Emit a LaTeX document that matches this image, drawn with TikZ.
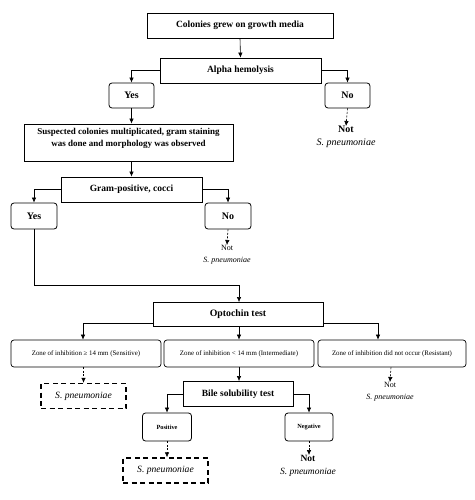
\documentclass[tikz,border=0pt]{standalone}
\usepackage{fontspec}
\setmainfont{Liberation Serif}
\usetikzlibrary{arrows.meta}
\begin{document}
\begin{tikzpicture}[x=1pt,y=-1pt,
  box/.style={draw, line width=0.8pt, inner sep=0pt, align=center, font=\fontsize{9.5}{11}\selectfont\bfseries},
  rbox/.style={box, rounded corners=3pt},
  zbox/.style={draw, line width=0.7pt, rounded corners=3pt, inner sep=0pt, align=center, minimum width=150pt, minimum height=27pt, font=\fontsize{6.9}{8}\selectfont},
  pbox/.style={rbox, minimum width=49pt, minimum height=28pt, font=\fontsize{6.3}{8}\selectfont\bfseries},
  dbox/.style={draw, line width=1.3pt, dash pattern=on 5pt off 3.5pt, inner sep=0pt, minimum width=85pt, minimum height=25pt, font=\fontsize{9.6}{11}\selectfont\itshape},
  nottxt/.style={align=center, inner sep=0pt},
  arr/.style={-{Latex[length=5pt,width=4.5pt]}, line width=0.6pt},
  darr/.style={arr, dash pattern=on 2pt off 1.5pt},
  ln/.style={line width=0.6pt}]
\useasboundingbox (0,0) rectangle (474,500);
% nodes
\node[box, minimum width=186pt, minimum height=25pt] (col) at (240,25.5) {Colonies grew on growth media};
\node[box, minimum width=161pt, minimum height=25pt] (alp) at (240.5,70.5) {Alpha hemolysis};
\node[rbox, minimum width=45pt, minimum height=25pt, font=\fontsize{10}{12}\selectfont\bfseries] (yes1) at (131.5,95.5) {Yes};
\node[rbox, minimum width=45pt, minimum height=25pt, font=\fontsize{10}{12}\selectfont\bfseries] (no1) at (347.5,95.5) {No};
\node[nottxt, anchor=north] (not1) at (346,126) {\fontsize{10}{11}\selectfont\bfseries Not\\[1pt]\fontsize{10}{11}\selectfont\itshape S. pneumoniae};
\node[box, minimum width=209pt, minimum height=37pt, font=\fontsize{9}{12}\selectfont\bfseries] (sus) at (128.5,142.5) {Suspected colonies multiplicated, gram staining\\was done and morphology was observed\\[-2pt]};
\node[box, minimum width=141pt, minimum height=25pt] (gram) at (131.5,189.5) {Gram-positive, cocci};
\node[rbox, minimum width=46pt, minimum height=26pt, font=\fontsize{10}{12}\selectfont\bfseries] (yes2) at (34,216) {Yes};
\node[rbox, minimum width=46pt, minimum height=26pt, font=\fontsize{10}{12}\selectfont\bfseries] (no2) at (228,216) {No};
\node[nottxt, anchor=north] (not2) at (227,245) {\fontsize{8}{9}\selectfont Not\\\fontsize{8}{9}\selectfont\itshape S. pneumoniae};
\node[box, minimum width=170pt, minimum height=24pt, font=\fontsize{9.8}{12}\selectfont\bfseries] (opt) at (238,314.5) {Optochin test};
\node[zbox] (z1) at (86,353.5) {Zone of inhibition ≥ 14 mm (Sensitive)};
\node[zbox] (z2) at (239,353.5) {Zone of inhibition < 14 mm (Intermediate)};
\node[zbox, minimum width=148pt] (z3) at (392,353.5) {Zone of inhibition did not occur (Resistant)};
\node[dbox] (sp1) at (83.5,396) {S. pneumoniae};
\node[nottxt, anchor=north] (not3) at (390,382) {\fontsize{8}{9}\selectfont Not\\\fontsize{8}{9}\selectfont\itshape S. pneumoniae};
\node[box, minimum width=110pt, minimum height=25pt] (bile) at (238,394) {Bile solubility test};
\node[pbox] (pos) at (167,427) {Positive};
\node[pbox, minimum width=48pt] (neg) at (309,427) {Negative};
\node[dbox] (sp2) at (165.5,470.5) {S. pneumoniae};
\node[nottxt, anchor=north] (not4) at (308,455) {\fontsize{9.5}{11}\selectfont\bfseries Not\\[1pt]\fontsize{9.5}{11}\selectfont\itshape S. pneumoniae};
% connectors
\draw[arr] (col.south) -- (alp.north);
\draw[arr] (alp.west) -| (yes1.north);
\draw[arr] (alp.east) -| (no1.north);
\draw[darr] (no1.south) -- (not1.north);
\draw[arr] (yes1.south) -- (yes1.south |- sus.north);
\draw[arr] (sus.south -| gram.north) -- (gram.north);
\draw[arr] (gram.west) -| (yes2.north);
\draw[arr] (gram.east) -| (no2.north);
\draw[darr] (no2.south) -- (not2.north);
\coordinate (jn) at (239,285);
\draw[arr] (yes2.south) |- (jn) -- (jn |- opt.north);
\draw[arr] ([yshift=3.5pt]opt.south west) -| ([xshift=-3pt]z1.north);
\draw[arr] (opt.south -| z2.north) -- (z2.north);
\draw[arr] ([yshift=3.5pt]opt.south east) -| ([xshift=-14pt]z3.north);
\draw[darr] ([xshift=-2.5pt]z1.south) -- (sp1.north);
\draw[darr] ([xshift=-1pt]z3.south) -- (not3.north);
\draw[arr] (z2.south) -- (z2.south |- bile.north);
\draw[arr] (bile.west) -| (pos.north);
\draw[arr] (bile.east) -| (neg.north);
\draw[darr] (pos.south) -- (pos.south |- sp2.north);
\draw[darr] (neg.south) -- (neg.south |- not4.north);
\end{tikzpicture}
\end{document}
